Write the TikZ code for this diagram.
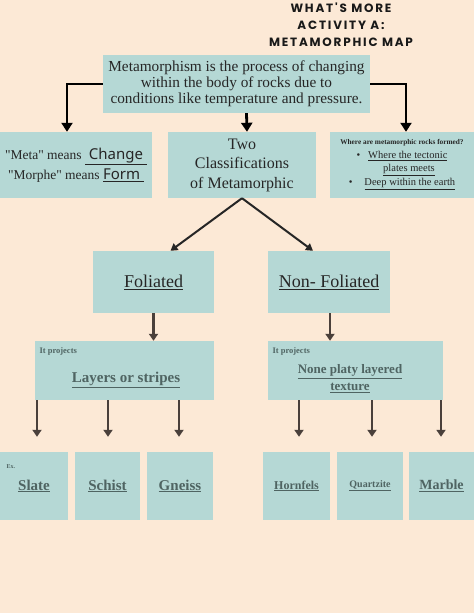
\documentclass[tikz,border=0pt]{standalone}
\usepackage{fontspec}
\setmainfont{Liberation Serif}
\newfontfamily\titlefont[LetterSpace=15]{Poppins}
\newfontfamily\sansfont{Noto Sans}
\usetikzlibrary{arrows.meta}
\definecolor{bg}{HTML}{FCE9D6}
\definecolor{boxc}{HTML}{B5D8D5}
\definecolor{fade}{HTML}{4F6462}
\definecolor{fadearr}{HTML}{4A403B}
\tikzset{
  box/.style={fill=boxc, draw=none, inner sep=2pt, align=center, text=black!85},
  arr/.style={line width=2.8pt, -{Triangle[length=9pt,width=11pt]}},
  arrs/.style={line width=2pt, -{Triangle[length=7pt,width=8pt]}, draw=black!85},
  arrf/.style={line width=2.4pt, -{Triangle[length=7pt,width=9pt]}, draw=fadearr},
}
\begin{document}
\begin{tikzpicture}[x=1pt,y=-1pt]
\fill[bg] (0,0) rectangle (474,613);
\useasboundingbox (0,0) rectangle (474,613);
% title
\node[font=\titlefont\bfseries\fontsize{12}{17}\selectfont, align=center, text=black!90] (title) at (341,25) {WHAT'S MORE\\ACTIVITY A:\\METAMORPHIC MAP};
% main box
\node[box, minimum width=267pt, minimum height=58pt, font=\fontsize{15.3}{16}\selectfont] (main) at (236.5,84)
 {Metamorphism is the process of changing\\within the body of rocks due to\\conditions like temperature and pressure.};
% second row
\node[box, minimum width=152pt, minimum height=66pt, font=\fontsize{13.5}{20}\selectfont] (lbox) at (76,165)
 {\textquotedbl Meta\textquotedbl\ means {\sansfont\fontsize{15}{20}\selectfont\underline{ Change }}\\\textquotedbl Morphe\textquotedbl\ means {\sansfont\fontsize{15}{20}\selectfont\underline{Form  }}};
\node[box, minimum width=148pt, minimum height=66pt, font=\fontsize{16}{19.5}\selectfont] (cbox) at (242,165)
 {Two\\Classifications\\of Metamorphic};
\node[box, minimum width=144pt, minimum height=66pt, font=\fontsize{10.5}{13}\selectfont] (rbox) at (402,165)
 {{\bfseries\fontsize{7.3}{9}\selectfont Where are metamorphic rocks formed?}\\[1pt]
  \textbullet\hspace{8pt}\underline{Where the tectonic}\\
  \hspace{14pt}\underline{plates meets}\\[1pt]
  \textbullet\hspace{12pt}\underline{Deep within the earth}};
% classifications
\node[box, minimum width=121pt, minimum height=62pt, font=\fontsize{18}{20}\selectfont] (fol) at (153.5,282) {\underline{Foliated}};
\node[box, minimum width=122pt, minimum height=62pt, font=\fontsize{18}{20}\selectfont] (nonfol) at (329,282) {\underline{Non- Foliated}};
% projections
\node[box, minimum width=179pt, minimum height=59pt] (projL) at (124.5,370.5) {};
\node[font=\bfseries\fontsize{8.5}{10}\selectfont, text=fade, anchor=west] (projLt) at (36,351) {It projects};
\node[font=\bfseries\fontsize{15}{18}\selectfont, text=fade] (projLx) at (126,380) {\underline{Layers or stripes}};
\node[box, minimum width=175pt, minimum height=59pt] (projR) at (355.5,370.5) {};
\node[font=\bfseries\fontsize{8.5}{10}\selectfont, text=fade, anchor=west] (projRt) at (269,351) {It projects};
\node[font=\bfseries\fontsize{13}{17}\selectfont, text=fade, align=center] (projRx) at (350,379) {\underline{None platy layered}\\\underline{texture}};
% examples
\tikzset{ex/.style={box, minimum height=68pt, font=\bfseries\fontsize{15}{16}\selectfont, text=fade}}
\node[ex, minimum width=68pt] (l1) at (34,486) {\underline{Slate}};
\node[ex, minimum width=65pt] (l2) at (107.5,486) {\underline{Schist}};
\node[ex, minimum width=66pt] (l3) at (180,486) {\underline{Gneiss}};
\node[ex, minimum width=67pt, font=\bfseries\fontsize{12}{16}\selectfont] (r1) at (296.5,486) {\underline{Hornfels}};
\node[ex, minimum width=66pt, font=\bfseries\fontsize{10}{16}\selectfont] (r2) at (370,486) {\underline{Quartzite}};
\node[ex, minimum width=65pt, font=\bfseries\fontsize{14}{16}\selectfont] (r3) at (441.5,486) {\underline{Marble}};
\node[font=\bfseries\fontsize{6}{7}\selectfont, text=fade, anchor=west] (exl) at (3,467) {Ex.};
% arrows
\draw[arr] (main.west) -| ([xshift=-9pt]lbox.north);
\draw[arr] (main.east) -| ([xshift=4pt]rbox.north);
\draw[arr] ([xshift=10pt]main.south) -- ([xshift=5pt]cbox.north);
\draw[arrs] (cbox.south) -- ([xshift=17pt]fol.north);
\draw[arrs] (cbox.south) -- ([xshift=-16pt]nonfol.north);
\draw[arrf] (fol.south) -- (fol.south |- projL.north);
\draw[arrf] ([xshift=1pt]nonfol.south) -- ([xshift=1pt]nonfol.south |- projR.north);
\foreach \n/\dx in {l1/3, l2/0.5, l3/-1, r1/2.5, r2/2, r3/-0.5}{
  \draw[arrf] ([xshift=\dx pt]\n.north |- projL.south) -- ([xshift=\dx pt, yshift=15pt]\n.north);
}
\end{tikzpicture}
\end{document}
